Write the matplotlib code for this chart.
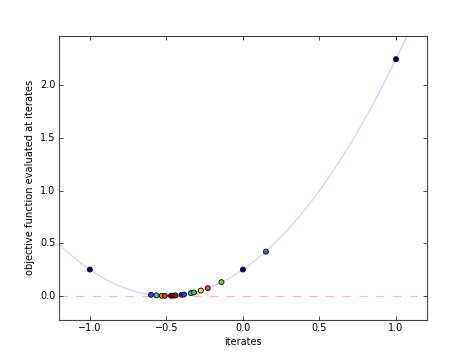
import matplotlib
matplotlib.use("Agg")
import matplotlib.pyplot as plt
import numpy as np

plt.style.use("classic")

# iterates and their objective values
iter_x = [1.0, -1.0, 0.0, 0.15, -0.60, -0.565, -0.53, -0.51, -0.47, -0.455,
          -0.44, -0.40, -0.385, -0.34, -0.32, -0.275, -0.23, -0.14]
iter_y = [2.25, 0.25, 0.25, 0.42, 0.010, 0.004, 0.001, 0.0, 0.001, 0.002,
          0.004, 0.010, 0.013, 0.026, 0.032, 0.050, 0.073, 0.13]
iter_colors = ["#00007f", "#00007f", "#0000a0", "#3a6fd8", "#1a40ff", "#40d0b0",
               "#ff8c00", "#e03020", "#a00000", "#900000", "#b01010", "#3020c0",
               "#2040e0", "#10c0e0", "#50c040", "#e0e020", "#ff4040", "#70d040"]

# objective function f(x) = x^2 + x + 0.25 (quadratic coefficients)
coeffs = [1.0, 1.0, 0.25]
x_range = (-1.2, 1.2)
y_range = (-0.225, 2.475)
xticks = [-1.0, -0.5, 0.0, 0.5, 1.0]
yticks = [0.0, 0.5, 1.0, 1.5, 2.0]

fig = plt.figure(figsize=(4.74, 3.55), dpi=100)
fig.patch.set_facecolor("white")
ax = fig.add_axes([0.125, 0.1, 0.775, 0.8])

xs = np.linspace(x_range[0], x_range[1], 400)
ax.plot(xs, np.polyval(coeffs, xs), color="blue", alpha=0.2, lw=0.8)
ax.axhline(0.0, color="red", ls="--", alpha=0.3, lw=0.8)
ax.scatter(iter_x, iter_y, c=iter_colors, s=13, edgecolors="black",
           linewidths=0.6, zorder=3)

ax.set_xlim(*x_range)
ax.set_ylim(*y_range)
ax.set_xticks(xticks)
ax.set_yticks(yticks)
ax.tick_params(labelsize=7.0, length=2.6, width=0.5, pad=2.6)
for s in ax.spines.values():
    s.set_linewidth(0.8)
    s.set_color("#444444")
ax.set_xlabel("iterates", fontsize=7.0, labelpad=2.5)
ax.set_ylabel("objective function evaluated at iterates", fontsize=7.1, labelpad=3.5)

fig.savefig("out.png", dpi=100, facecolor="white")
